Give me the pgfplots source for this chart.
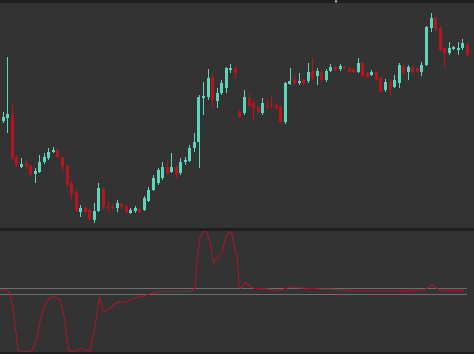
\documentclass[border=0pt]{standalone}
\usepackage{pgfplots}
\pgfplotsset{compat=1.18}
\usepackage{pgfplotstable}
\definecolor{bgc}{HTML}{333333}
\definecolor{sepc}{HTML}{1E1E1E}
\definecolor{bull}{HTML}{5DD5BA}
\definecolor{bear}{HTML}{B8141D}
\definecolor{ind}{HTML}{A3172C}
\definecolor{lvl}{HTML}{6E6E6E}

% bullish candles: index, high, body top (close), body bottom (open), low
\pgfplotstableread{
i hi top bot lo
0 118 113 109 107
1 173 116 112 97
4 72 66 63 62
7 62 59 56 47
8 75 68 58 57
9 77 73 68 66
10 82 78 72 70
11 83 80 78 77
17 25 22 18 13
20 27 19 10 7
21 47 42 19 18
25 30 27 22 18
28 22 20 17 16
29 24 22 19 17
31 34 32 20 19
32 43 40 29 28
33 55 52 40 39
34 62 60 47 45
35 68 63 52 50
37 77 63 58 57
39 72 68 57 55
40 73 70 68 65
41 85 82 69 68
42 97 88 82 78
43 135 133 88 62
44 148 134 132 115
45 161 152 133 130
47 142 137 129 122
48 150 147 137 135
49 163 162 142 137
50 166 162 160 157
53 140 133 117 115
57 132 127 117 115
62 148 147 108 106
63 162 149 146 145
65 157 149 147 145
67 167 158 149 147
69 162 159 154 145
71 161 159 150 148
72 166 163 159 158
74 166 164 161 159
78 172 167 158 157
81 160 158 155 154
84 151 148 140 138
86 155 150 143 142
87 167 165 147 142
89 165 163 158 150
92 168 165 158 154
93 204 203 165 164
94 217 212 202 198
98 188 182 177 175
99 184 183 181 180
100 188 182 180 175
101 191 187 182 180
}\bulltab

% bearish candles: index, high, body top (open), body bottom (close), low
\pgfplotstableread{
i hi top bot lo
2 127 115 72 70
3 75 73 65 63
5 70 67 63 61
6 66 64 56 53
12 81 80 73 72
13 74 73 63 58
14 65 64 45 43
15 49 47 36 30
16 40 38 20 18
18 24 22 18 16
19 21 20 11 9
22 42 41 23 21
23 28 22.5 21.5 18
24 26 22.5 21.5 20
26 28 26 23 21
27 25 24 18 17
30 22 21 18 17
36 70 63 57 55
38 65 63 55 52
46 157 153 130 122
51 164 162 157 152
52 120 118 113 112
54 137 132 124 123
55 130 127 122 110
56 125 123 118 116
58 132 124 123 120
59 135 124.5 123.5 122
60 127 125 122 120
61 125 123 108 107
64 155 150 147 145
66 152 150 147 145
68 172 159 152 150
70 160 158 150 148
73 164 163 160 159
75 164 163 162 161
76 163 162 158 157
77 162 161 158 157
79 168 167 154 153
80 158 157 153 152
82 159 158 150 149
83 153 152 138 137
85 150 148 141 135
88 167 163 157 155
90 164 162 158 156
91 163 162 158 157
95 213 212 201 199
96 204 202 180 178
97 183 182 177 162
102 188 185 175 174
}\beartab

\pgfplotsset{
  candle/.style n args={2}{draw=none, mark=none,
    error bars/.cd, y dir=plus, y explicit, error mark=none,
    error bar style={draw=#1, line width=#2}},
}

\begin{document}
\begin{tikzpicture}
\fill[sepc] (0bp,0bp) rectangle (474bp,354bp);
\fill[bgc] (0bp,126bp) rectangle (474bp,351bp);
\fill[bgc] (0bp,2bp) rectangle (474bp,123bp);
\fill[gray!70] (336bp,352.5bp) circle (1.5bp);

\begin{axis}[at={(0bp,126bp)}, anchor=south west, scale only axis,
  width=474bp, height=225bp, xmin=-0.725, xmax=103.45, ymin=2, ymax=227,
  hide axis, clip=true]
\addplot[candle={bull}{0.9bp}]
  table[x=i, y=lo, y error plus expr=\thisrow{hi}-\thisrow{lo}] {\bulltab};
\addplot[candle={bear}{0.9bp}]
  table[x=i, y=lo, y error plus expr=\thisrow{hi}-\thisrow{lo}] {\beartab};
\addplot[candle={bull}{3bp}]
  table[x=i, y=bot, y error plus expr=\thisrow{top}-\thisrow{bot}] {\bulltab};
\addplot[candle={bear}{3bp}]
  table[x=i, y=bot, y error plus expr=\thisrow{top}-\thisrow{bot}] {\beartab};
\end{axis}

\begin{axis}[at={(0bp,2bp)}, anchor=south west, scale only axis,
  width=474bp, height=121bp, xmin=-0.725, xmax=103.45, ymin=-60.6, ymax=60.4,
  hide axis, clip=true]
\addplot[lvl, line width=0.9bp] coordinates {(-0.725,3) (102,3)};
\addplot[lvl, line width=0.9bp] coordinates {(-0.725,-3) (102,-3)};
\addplot[ind, line width=1bp] coordinates {
(-0.73,1.4) (0.75,1.4) (1.47,-1.9) (2.20,-20.3) (2.95,-46.9) (3.30,-58.6)
(4.04,-60.2) (5.87,-60.2) (6.59,-56.9) (7.34,-46.9) (8.07,-30.3) (9.16,-13.6)
(10.26,-6.3) (11.36,-5.3) (12.46,-8.6) (13.19,-20.3) (13.93,-43.6) (14.29,-56.9)
(14.66,-60.2) (15.76,-60.0) (16.86,-56.9) (17.96,-58.6) (19.05,-60.2) (19.78,-43.6)
(20.53,-23.6) (21.10,-5.3) (21.63,-13.6) (21.98,-20.3) (23.45,-16.9) (24.55,-11.9)
(25.65,-10.3) (26.75,-10.9) (27.85,-8.6) (28.95,-6.9) (30.04,-5.3) (31.52,-3.6)
(32.97,-1.3) (34.44,-0.3) (37.36,-0.3) (40.31,-0.3) (41.41,0.7) (42.13,3.1)
(42.51,26.4) (43.23,54.7) (43.96,59.8) (44.70,59.8) (45.43,49.7) (46.15,28.1)
(46.90,33.1) (48.00,38.1) (48.73,51.4) (49.45,59.8) (50.20,58.1) (50.92,41.4)
(51.43,33.4) (51.80,4.7) (52.18,3.1) (53.27,9.1) (54.00,5.7) (55.10,3.1)
(58.02,2.4) (60.22,0.7) (61.69,2.4) (63.16,4.7) (64.62,3.7) (66.81,3.1)
(69.76,2.4) (72.68,2.1) (76.35,0.7) (80.00,0.4) (87.34,0.4) (92.46,1.4)
(93.56,4.7) (94.29,6.4) (95.03,4.1) (96.13,0.7) (101.25,0.7)
};
\end{axis}
\end{tikzpicture}
\end{document}
